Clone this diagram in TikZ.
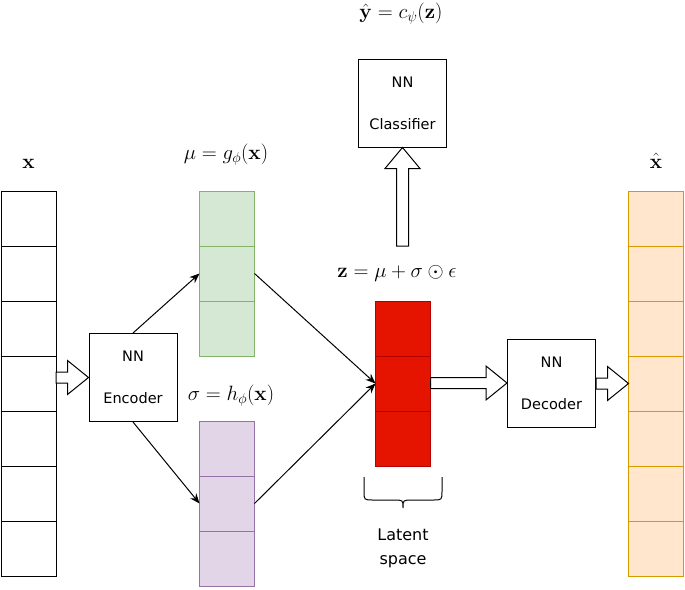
\documentclass[tikz,border=0pt]{standalone}
\usepackage{amsmath,amssymb}
\usepackage[no-math]{fontspec}
\setmainfont{DejaVu Sans}
\usepackage{tikz}
\usetikzlibrary{positioning,arrows.meta,calc}

\definecolor{mufill}{HTML}{D5E8D4}
\definecolor{muline}{HTML}{82B366}
\definecolor{sigfill}{HTML}{E1D5E7}
\definecolor{sigline}{HTML}{9673A6}
\definecolor{zfill}{HTML}{E51400}
\definecolor{zline}{HTML}{B20000}
\definecolor{outfill}{HTML}{FFE6CC}
\definecolor{outline}{HTML}{D79B00}

\begin{document}
\begin{tikzpicture}[x=1pt,y=-1pt,node distance=0pt,
      cell/.style={draw,line width=1pt,minimum width=55pt,minimum height=55pt,inner sep=0pt,outer sep=0pt},
      mucell/.style={cell,draw=muline,fill=mufill},
      sigcell/.style={cell,draw=sigline,fill=sigfill},
      zcell/.style={cell,draw=zline,fill=zfill},
      outcell/.style={cell,draw=outline,fill=outfill},
      nnbox/.style={draw,line width=1pt,minimum width=88pt,minimum height=88pt,align=center,
        font=\fontsize{14.5}{17}\selectfont},
      lbl/.style={font=\fontsize{21}{25}\selectfont},
      hollow/.style={draw,fill=white,line width=1pt,line join=miter},
      >={Stealth[length=10pt,width=8pt]}]
      \useasboundingbox (0,0) rectangle (685,589);
      % input x
      \node[cell] (x1) at (28.5,218.5) {};
      \node[cell, below=of x1] (x2) {};
      \node[cell, below=of x2] (x3) {};
      \node[cell, below=of x3] (x4) {};
      \node[cell, below=of x4] (x5) {};
      \node[cell, below=of x5] (x6) {};
      \node[cell, below=of x6] (x7) {};
      \node[lbl, anchor=base] (xlbl) at (28.5,168) {$\mathbf{x}$};
      % encoder
      \node[nnbox] (enc) at (133,377.5) {NN\\[25pt]Encoder};
      % mean
      \node[mucell] (mu1) at (227,218.5) {};
      \node[mucell, below=of mu1] (mu2) {};
      \node[mucell, below=of mu2] (mu3) {};
      \node[lbl] (mulbl) at (226,155) {$\mu = g_{\phi}(\mathbf{x})$};
      % std
      \node[sigcell] (sig1) at (227,448.5) {};
      \node[sigcell, below=of sig1] (sig2) {};
      \node[sigcell, below=of sig2] (sig3) {};
      \node[lbl] (siglbl) at (231,396) {$\sigma = h_{\phi}(\mathbf{x})$};
      % latent z
      \node[zcell] (z1) at (403,328.5) {};
      \node[zcell, below=of z1] (z2) {};
      \node[zcell, below=of z2] (z3) {};
      \node[lbl] (zlbl) at (397,273) {$\mathbf{z} = \mu + \sigma \odot \epsilon$};
      \draw[line width=1pt] (364,477) -- (364,491) .. controls (364,500) .. (373,500) -- (394,500)
        .. controls (403,500) .. (403,508) .. controls (403,500) .. (412,500) -- (433,500)
        .. controls (442,500) .. (442,491) -- (442,477);
      \node[align=center, font=\fontsize{16}{24}\selectfont] (latent) at (403,548) {Latent\\space};
      % classifier
      \node[nnbox] (cls) at (402.5,103) {NN\\[25pt]Classifier};
      \node[lbl] (ylbl) at (401,14) {$\hat{\mathbf{y}} = c_{\psi}(\mathbf{z})$};
      % decoder
      \node[nnbox] (dec) at (551.5,383) {NN\\[25pt]Decoder};
      % output x hat
      \node[outcell] (xh1) at (656,218.5) {};
      \node[outcell, below=of xh1] (xh2) {};
      \node[outcell, below=of xh2] (xh3) {};
      \node[outcell, below=of xh3] (xh4) {};
      \node[outcell, below=of xh4] (xh5) {};
      \node[outcell, below=of xh5] (xh6) {};
      \node[outcell, below=of xh6] (xh7) {};
      \node[lbl, anchor=base] (xhlbl) at (656,168) {$\hat{\mathbf{x}}$};
      % thin arrows
      \draw[->, line width=1pt] (enc.north) -- (mu2.west);
      \draw[->, line width=1pt] (enc.south) -- (sig2.west);
      \draw[->, line width=1pt] (mu2.east) -- (z2.west);
      \draw[->, line width=1pt] (sig2.east) -- (z2.west);
      % block arrows
      \draw[hollow] let \p1=(x4.east), \p2=(enc.west) in
        (\x1,\y2+5.5pt) -- (\x2-21pt,\y2+5.5pt) -- (\x2-21pt,\y2+17pt) -- (\p2)
        -- (\x2-21pt,\y2-17pt) -- (\x2-21pt,\y2-5.5pt) -- (\x1,\y2-5.5pt) -- cycle;
      \draw[hollow] let \p1=(z2.east), \p2=(dec.west) in
        (\x1,\y2+5.5pt) -- (\x2-21pt,\y2+5.5pt) -- (\x2-21pt,\y2+17pt) -- (\p2)
        -- (\x2-21pt,\y2-17pt) -- (\x2-21pt,\y2-5.5pt) -- (\x1,\y2-5.5pt) -- cycle;
      \draw[hollow] let \p1=(dec.east), \p2=(xh4.west) in
        (\x1,\y2+5.5pt) -- (\x2-21pt,\y2+5.5pt) -- (\x2-21pt,\y2+17pt) -- (\p2)
        -- (\x2-21pt,\y2-17pt) -- (\x2-21pt,\y2-5.5pt) -- (\x1,\y2-5.5pt) -- cycle;
      \coordinate (clsin) at (403,246);
      \draw[hollow] let \p1=(clsin), \p2=(cls.south) in
        (\x2-6pt,\y1) -- (\x2-6pt,\y2-21pt) -- (\x2-17.5pt,\y2-21pt) -- (\p2)
        -- (\x2+17.5pt,\y2-21pt) -- (\x2+6pt,\y2-21pt) -- (\x2+6pt,\y1) -- cycle;
    \end{tikzpicture}
\end{document}
